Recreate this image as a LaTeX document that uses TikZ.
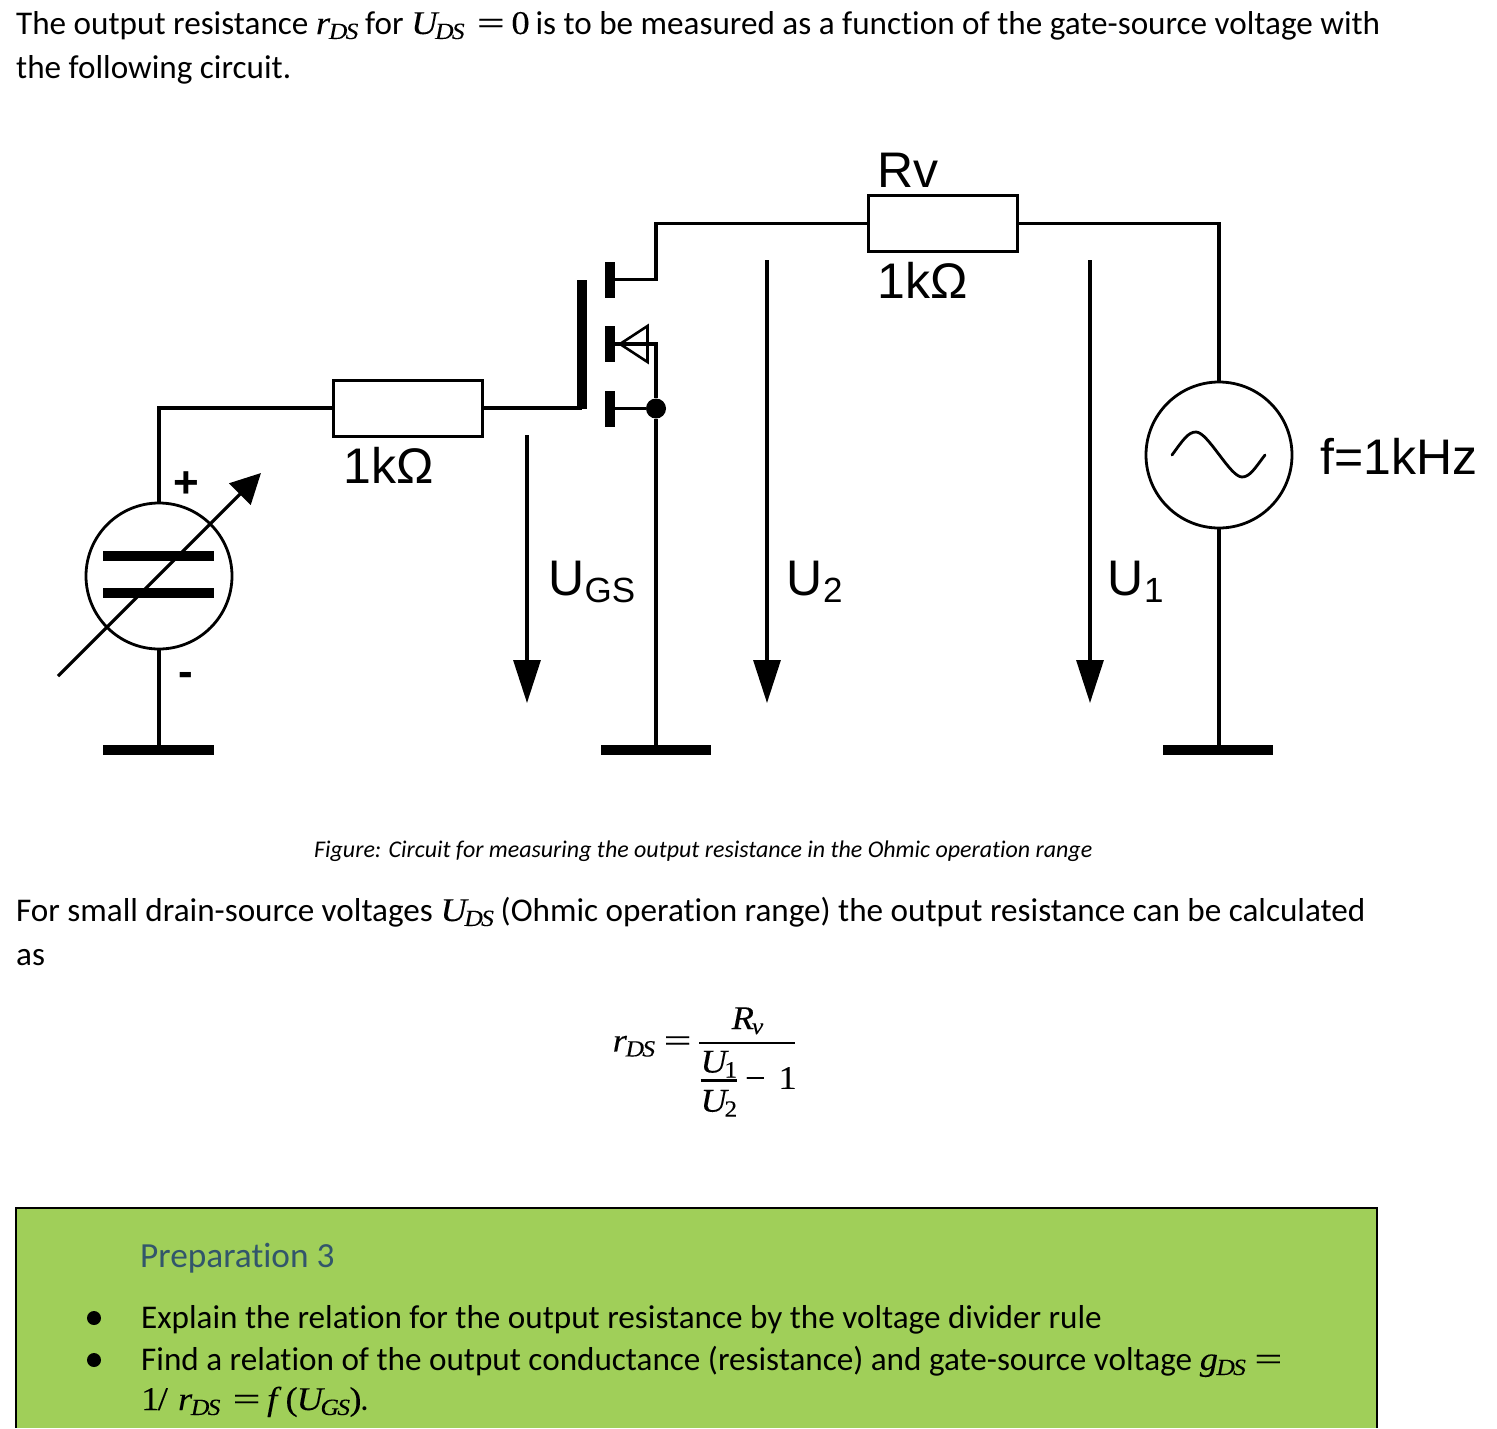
\documentclass[tikz,border=0pt]{standalone}
\usepackage{fix-cm}
\usepackage{mathtools}
\usepackage[no-math]{fontspec}
\setmainfont{Carlito}[Ligatures=NoCommon]
\newfontfamily\circuitfont{Liberation Sans}
\newfontfamily\letterfont{Liberation Serif}[NFSSFamily=lsf, FakeStretch=1.1, FakeBold=0.1]
\DeclareSymbolFont{lsfit}{TU}{lsf}{m}{it}
\DeclareSymbolFont{lsfup}{TU}{lsf}{m}{n}
\DeclareMathSymbol{r}{\mathalpha}{lsfit}{`r}
\DeclareMathSymbol{g}{\mathalpha}{lsfit}{`g}
\DeclareMathSymbol{f}{\mathalpha}{lsfit}{`f}
\DeclareMathSymbol{v}{\mathalpha}{lsfit}{`v}
\DeclareMathSymbol{D}{\mathalpha}{lsfit}{`D}
\DeclareMathSymbol{S}{\mathalpha}{lsfit}{`S}
\DeclareMathSymbol{U}{\mathalpha}{lsfit}{`U}
\DeclareMathSymbol{R}{\mathalpha}{lsfit}{`R}
\DeclareMathSymbol{G}{\mathalpha}{lsfit}{`G}
\DeclareMathSymbol{0}{\mathord}{lsfup}{`0}
\DeclareMathSymbol{1}{\mathord}{lsfup}{`1}
\DeclareMathSymbol{2}{\mathord}{lsfup}{`2}
\DeclareMathSymbol{=}{\mathrel}{lsfup}{`=}
\DeclareMathSymbol{/}{\mathord}{lsfup}{`/}
\DeclareMathSymbol{(}{\mathopen}{lsfup}{`(}
\DeclareMathSymbol{)}{\mathclose}{lsfup}{`)}
\Umathcode`-="2 \symlsfup "2212 \relax
\newcommand{\wideeq}{\mathrel{\scalebox{1.35}[1]{$=$}}}
\usetikzlibrary{positioning, arrows.meta}
\definecolor{box_green}{HTML}{A0CF59}
\definecolor{heading_blue}{HTML}{32566B}

\begin{document}
\begin{tikzpicture}
    [
        x=1pt, y=-1pt, on grid,
        wire/.style={line width=3.2pt, color=black},
        thin_wire/.style={line width=2.6pt, color=black},
        res_node/.style={rectangle, draw=black, fill=white, line width=3pt, minimum width=149pt, minimum height=56pt},
        src_node/.style={circle, draw=black, fill=white, line width=2.8pt, minimum size=146pt},
        gnd_bar/.style={rectangle, fill=black, inner sep=0pt, minimum width=110.5pt, minimum height=9.5pt},
        chan_bar/.style={rectangle, fill=black, inner sep=0pt, minimum width=10pt, minimum height=36pt},
        dot_node/.style={circle, fill=black, inner sep=0pt, minimum size=20pt},
        bullet_node/.style={circle, fill=black, inner sep=0pt, minimum size=14pt},
        volt_arrow/.style={wire, -{Triangle[length=43pt, width=27pt]}},
        circuit_label/.style={inner sep=0pt, font=\circuitfont\fontsize{50}{50}\selectfont},
        sign_label/.style={inner sep=0pt, font=\circuitfont\bfseries\fontsize{44}{44}\selectfont},
        body_text/.style={anchor=base west, inner sep=0pt, font=\fontsize{33.15}{38}\selectfont},
    ]
        \clip (0,0) rectangle (1497,1428);
        \path[fill=white] (0,0) rectangle (1497,1428);
        % text above and below the circuit
        \node[body_text] (line1) at (16,34) {The output resistance $r_{DS}$ for $U_{DS}\mkern3mu$ $\wideeq 0$ is to be measured as a function of the gate-source voltage with};
        \node[body_text] (line2) at (16,78) {the following circuit.};
        \node[anchor=base west, inner sep=0pt, font=\itshape\fontsize{23.95}{30}\selectfont] (caption) at (314,857) {Figure: Circuit for measuring the output resistance in the Ohmic operation range};
        \node[body_text] (line3) at (16,921) {For small drain-source voltages $U_{DS}$ (Ohmic operation range) the output resistance can be calculated};
        \node[body_text] (line4) at (16,965) {as};
        \node[inner sep=0pt, font=\fontsize{33.15}{38}\selectfont] (formula) at (704.5,1062) {$r_{DS}\wideeq\genfrac{}{}{2.5pt}{0}{R_v}{\rule{0pt}{37pt}\genfrac{}{}{2.5pt}{0}{\smash{\raisebox{-6pt}{$U_1$}}}{\smash[t]{U_2}}-\mkern4mu 1}$};
        % sources and resistors
        \node[src_node] (dc) at (159,576) {};
        \node[res_node] (r_gate) at (408,408) {};
        \node[res_node] (r_v) at (942.5,223.5) {};
        \node[src_node] (ac) at (1219,455) {};
        \node[gnd_bar] (gnd_dc) at (158.5,750) {};
        \node[gnd_bar] (gnd_fet) [right = 497.5pt of gnd_dc] {};
        \node[gnd_bar] (gnd_ac) [right = 1059.5pt of gnd_dc] {};
        \node[gnd_bar] (plate_top) at (158.5,556) {};
        \node[gnd_bar] (plate_bot) at (158.5,593) {};
        % transistor
        \node[rectangle, fill=black, inner sep=0pt, minimum width=10pt, minimum height=129pt] (gate) at (582,344.5) {};
        \node[chan_bar] (drain) at (610,279.5) {};
        \node[chan_bar] (bulk) at (610,344) {};
        \node[chan_bar] (source) at (610,408.5) {};
        \node[dot_node] (dot) at (656,408.5) {};
        \coordinate (gate_in) at (582,408);
        \coordinate (drain_up) at (656,279.5);
        \coordinate (drain_top) at (656,223.5);
        \coordinate (bulk_up) at (656,344);
        \coordinate (dc_up) at (159,408);
        \coordinate (ac_up) at (1219,223.5);
        \coordinate (dio_tip) at (620,344);
        \coordinate (dio_top) at (647.5,326);
        \coordinate (dio_bot) at (647.5,362);
        \draw[wire] (dc) -- (dc_up) -- (r_gate);
        \draw[wire] (r_gate) -- (gate_in);
        \draw[wire] (drain) -- (drain_up) -- (drain_top) -- (r_v);
        \draw[wire] (r_v) -- (ac_up) -- (ac);
        \draw[wire] (bulk) -- (bulk_up) -- (dot);
        \draw[wire] (source) -- (dot);
        \draw[wire] (dot) -- (gnd_fet);
        \draw[wire] (ac) -- (ac |- gnd_ac);
        \draw[wire] (dc) -- (dc |- gnd_dc);
        \draw[thin_wire] (dio_tip) -- (dio_top) -- (dio_bot) -- cycle;
        % the sine inside the ac source
        \draw[wire, line width=2.8pt, line cap=round] (1172,455) .. controls (1183,440) and (1188,432) .. (1196,432) .. controls (1208,432) and (1230,477) .. (1242,477) .. controls (1250,477) and (1255,468) .. (1265,455);
        % adjustable source arrow
        \coordinate (adj_start) at (58,676);
        \coordinate (adj_end) at (261,473);
        \draw[wire, -{Triangle[length=30pt, width=30pt]}] (adj_start) -- (adj_end);
        \node[sign_label] (plus) at (186,485) {+};
        \node[sign_label] (minus) at (186,679) {-};
        % measured voltages
        \coordinate (ugs_top) at (527,435);
        \coordinate (ugs_end) at (527,703);
        \coordinate (u2_top) at (767,260);
        \coordinate (u2_end) at (767,703);
        \coordinate (u1_top) at (1090,260);
        \coordinate (u1_end) at (1090,703);
        \draw[volt_arrow] (ugs_top) -- (ugs_end);
        \draw[volt_arrow] (u2_top) -- (u2_end);
        \draw[volt_arrow] (u1_top) -- (u1_end);
        % circuit labels
        \node[circuit_label] (lab_rv) at (908,170) {Rv};
        \node[circuit_label] (lab_rv_val) at (923,280) {1kΩ};
        \node[circuit_label] (lab_rg) at (389,465) {1kΩ};
        \node[circuit_label] (lab_ugs) at (592,582) {U\textsubscript{GS}};
        \node[circuit_label] (lab_u2) at (815,582) {U\textsubscript{2}};
        \node[circuit_label] (lab_u1) at (1136,582) {U\textsubscript{1}};
        \node[circuit_label] (lab_f) at (1399,456) {f=1kHz};
        % preparation box
        \coordinate (box_nw) at (16,1208);
        \coordinate (box_ne) at (1377,1208);
        \coordinate (box_sw) at (16,1428);
        \coordinate (box_se) at (1377,1428);
        \path[fill=box_green] (box_sw) -- (box_nw) -- (box_ne) -- (box_se) -- cycle;
        \draw[line width=2.4pt] (box_sw) -- (box_nw) -- (box_ne) -- (box_se);
        \node[anchor=base west, inner sep=0pt, text=heading_blue, font=\fontsize{35.3}{40}\selectfont] (prep) at (140,1267) {Preparation 3};
        \node[bullet_node] (bullet1) at (94,1318) {};
        \node[bullet_node] (bullet2) at (94,1360) {};
        \node[body_text] (item1) at (141,1328) {Explain the relation for the output resistance by the voltage divider rule};
        \node[body_text] (item2) at (141,1370) {Find a relation of the output conductance (resistance) and gate-source voltage $g_{DS}\wideeq$};
        \node[body_text] (item3) at (141,1410) {$1/\mkern6mu r_{DS}\mkern2mu\wideeq f\mkern5mu(U_{GS})$.};
    \end{tikzpicture}
\end{document}
